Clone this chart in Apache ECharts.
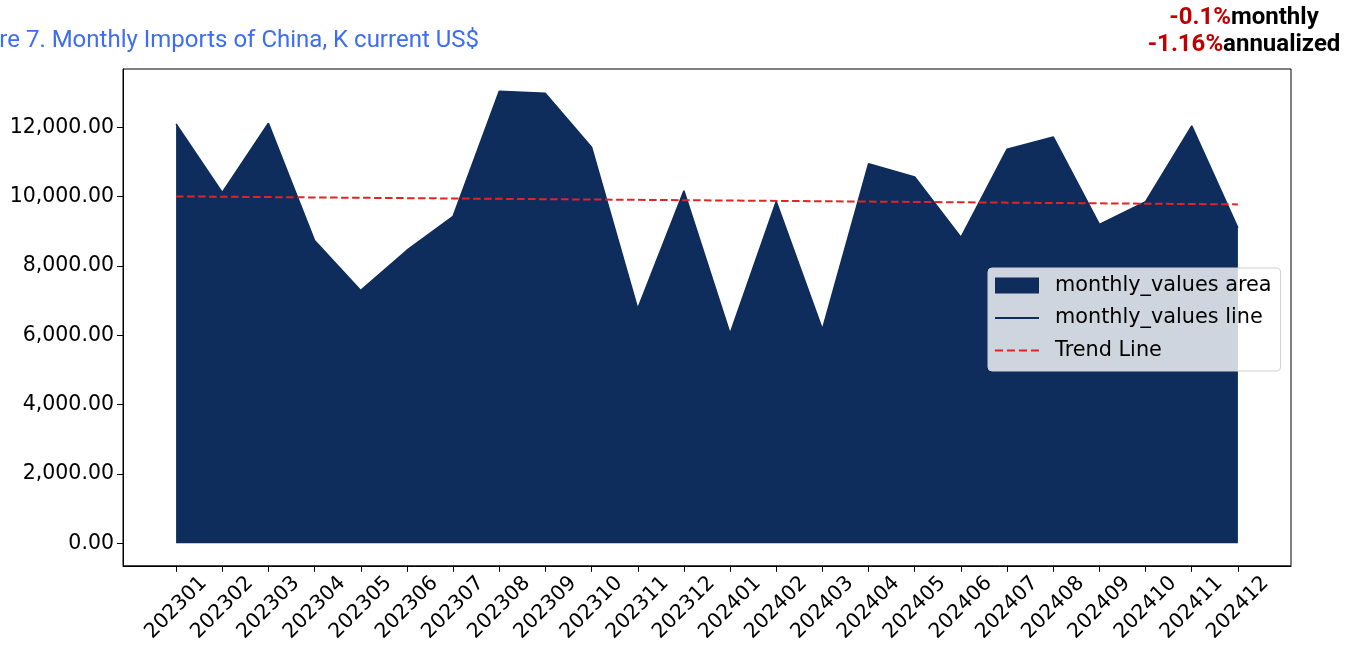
<!DOCTYPE html>
<html>
<head>
<meta charset="utf-8">
<script src="https://cdn.jsdelivr.net/npm/echarts@6/dist/echarts.min.js"></script>
<style>
html,body{margin:0;padding:0;background:#fff;}
#chart{width:1357px;height:645px;}
</style>
</head>
<body>
<div id="chart"></div>
<script>
const categories = ['202301','202302','202303','202304','202305','202306','202307','202308','202309','202310','202311','202312',
  '202401','202402','202403','202404','202405','202406','202407','202408','202409','202410','202411','202412'];
const monthlyValues = [12095, 10120, 12114, 8731, 7294, 8453, 9430, 13035, 12977, 11425, 6768, 10169,
  6049, 9861, 6173, 10945, 10563, 8826, 11368, 11721, 9200, 9853, 12038, 9097];
const trendStart = 10005;
const trendEnd = 9775;
const yTicks = [0, 2000, 4000, 6000, 8000, 10000, 12000];
const titleText = 'Figure 7. Monthly Imports of China, K current US$';
const monthlyRate = '-0.1%';
const annualRate = '-1.16%';

const NAVY = '#0e2d5d';
const RED = '#e02424';
const xIdx = categories.map((c, i) => i);
const areaData = monthlyValues.map((v, i) => [i, v]);
const trendData = [[0, trendStart], [categories.length - 1, trendEnd]];

const chart = echarts.init(document.getElementById('chart'), null, {renderer: 'canvas'});
const fmt = v => v.toLocaleString('en-US', {minimumFractionDigits: 2, maximumFractionDigits: 2});

chart.setOption({
  animation: false,
  backgroundColor: '#fff',
  textStyle: {fontFamily: 'DejaVu Sans'},
  grid: {left: 123, right: 66, top: 69, bottom: 78, show: true, borderColor: '#000', borderWidth: 1, containLabel: false},
  graphic: [
    {type: 'text', x: 479, y: 29, style: {text: titleText, font: '24px Roboto', fill: '#3d6df5', align: 'right', verticalAlign: 'top'}},
    {type: 'text', x: 1244, y: 4, style: {
      text: '{r|' + monthlyRate + '}{k|monthly}\n{r|' + annualRate + '}{k|annualized}',
      align: 'center',
      rich: {
        r: {font: 'bold 24px Roboto', fill: '#c00000', lineHeight: 27},
        k: {font: 'bold 24px Roboto', fill: '#000', lineHeight: 27}
      }
    }}
  ],
  xAxis: {
    type: 'value',
    min: -1.15,
    max: categories.length - 1 + 1.15,
    splitLine: {show: false},
    axisLine: {show: true, onZero: false, lineStyle: {color: '#000', width: 1}},
    axisTick: {show: true, customValues: xIdx, length: 6, lineStyle: {color: '#000'}},
    axisLabel: {customValues: xIdx, rotate: 45, align: 'center', verticalAlign: 'middle',
      formatter: v => categories[Math.round(v)] || '', color: '#000', fontSize: 20.5, fontFamily: 'DejaVu Sans', margin: 42}
  },
  yAxis: {
    type: 'value',
    min: -650,
    max: 13680,
    splitLine: {show: false},
    axisLine: {show: true, onZero: false, lineStyle: {color: '#000', width: 1}},
    axisTick: {show: true, customValues: yTicks, length: 6, lineStyle: {color: '#000'}},
    axisLabel: {customValues: yTicks, formatter: fmt, color: '#000', fontSize: 20.5, fontFamily: 'DejaVu Sans', margin: 9}
  },
  legend: {
    orient: 'vertical',
    left: 988,
    top: 268,
    padding: [7, 9, 10, 7],
    itemWidth: 44,
    itemHeight: 16,
    itemGap: 11.5,
    backgroundColor: 'rgba(255,255,255,0.8)',
    borderColor: '#d0d0d0',
    borderWidth: 1,
    borderRadius: 4,
    textStyle: {fontSize: 20.8, fontFamily: 'DejaVu Sans', color: '#000', lineHeight: 20, padding: [0, 0, 0, 11]},
    data: [
      {name: 'monthly_values area', icon: 'rect', itemStyle: {color: NAVY, borderWidth: 0}},
      {name: 'monthly_values line', icon: 'path://M0,0H44V2H0Z', itemStyle: {color: NAVY, borderWidth: 0}, lineStyle: {width: 0}},
      {name: 'Trend Line', icon: 'path://M0,0H8V2H0Z M12,0H20V2H12Z M24,0H32V2H24Z M36,0H44V2H36Z', itemStyle: {color: RED, borderWidth: 0}, lineStyle: {width: 0}}
    ]
  },
  series: [
    {
      name: 'monthly_values area', type: 'line', data: areaData, symbol: 'none',
      lineStyle: {width: 0, color: NAVY}, itemStyle: {color: NAVY},
      areaStyle: {color: NAVY, opacity: 1, origin: 'auto'}, z: 1
    },
    {
      name: 'monthly_values line', type: 'line', data: areaData, symbol: 'none',
      lineStyle: {width: 1.5, color: NAVY}, itemStyle: {color: NAVY}, z: 2
    },
    {
      name: 'Trend Line', type: 'line', data: trendData, symbol: 'none',
      lineStyle: {width: 2, color: RED, type: [7.5, 3.5]}, itemStyle: {color: RED}, z: 3
    }
  ]
});
</script>
</body>
</html>
